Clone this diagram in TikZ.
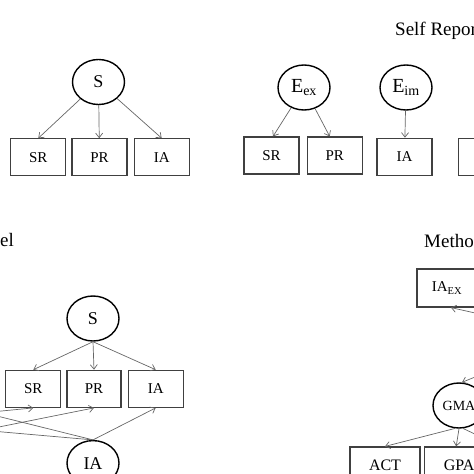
\documentclass[tikz,border=0pt]{standalone}
\usepackage{fontspec}
\setmainfont{Liberation Serif}
\usetikzlibrary{positioning, shapes.geometric, arrows.meta}
\tikzset{
  every node/.style={text=black},
  latent/.style={ellipse, draw=black, line width=1.4pt, minimum width=52pt, minimum height=45pt, inner sep=0pt, font=\fontsize{18}{18}\selectfont},
  observed/.style={rectangle, draw=black!75, line width=1.2pt, minimum width=55pt, minimum height=37pt, inner sep=0pt, font=\fontsize{15}{15}\selectfont},
  load/.style={draw=black!60, line width=0.7pt, -{Straight Barb[length=4.5pt,width=7pt]}},
  heading/.style={inner sep=0pt, anchor=base west, font=\fontsize{19}{19}\selectfont}
}

\begin{document}
\begin{tikzpicture}[x=1pt, y=-1pt, node distance=28pt]
  \useasboundingbox (0,0) rectangle (474,474);
  \clip (0,0) rectangle (474,474);

  % Headings
  \node (headB) [heading] at (395,35) {Self Report};
  \node (headC) [heading, anchor=base east] at (14,246) {Model};
  \node (headD) [heading] at (424,247) {Method};

  % Single factor
  \node (sA) [latent] at (98.5,82) {S};
  \node (prA) [observed, below=33pt of sA, xshift=1pt] {PR};
  \node (srA) [observed, left=5pt of prA] {SR};
  \node (iaA) [observed, right=6pt of prA] {IA};

  \draw[load] (sA) -- (srA.north);
  \draw[load] (sA) -- (prA);
  \draw[load] (sA) -- (iaA.north);

  % Explicit / implicit
  \node (eEx) [latent, font=\fontsize{20}{20}\selectfont] at (304,87.5) {E\textsubscript{ex}};
  \node (eIm) [latent, font=\fontsize{20}{20}\selectfont] at (406,87.5) {E\textsubscript{im}};
  \node (srB) [observed] at (271.5,155.5) {SR};
  \node (prB) [observed, right=7pt of srB] {PR};
  \node (iaB) [observed, below=27pt of eIm, xshift=-1.5pt] {IA};
  \node (moreB) [observed, right=25pt of iaB] {};

  \draw[load] (eEx) -- ([xshift=1.5pt]srB.north);
  \draw[load] (eEx) -- ([xshift=-5pt]prB.north);
  \draw[load] (eIm) -- (iaB);

  % Method factor
  \node (sC) [latent] at (93,318.5) {S};
  \node (prC) [observed, below=28pt of sC, xshift=1pt, minimum width=54pt] {PR};
  \node (srC) [observed, left=5pt of prC] {SR};
  \node (iaC) [observed, right=6pt of prC] {IA};
  \node (iaD) [latent, below=32pt of prC, xshift=-1pt] {IA};

  \coordinate (inSr) at (-60,417);
  \coordinate (inPr) at (-60,438.8);
  \coordinate (outA) at (-60,401.8);
  \coordinate (outB) at (-60,426.5);

  \draw[load] (sC.south) -- (srC.north);
  \draw[load] (sC.south) -- (prC.north);
  \draw[load] (sC.south) -- (iaC.north);
  \draw[load] (inSr) -- (srC.south);
  \draw[load] (inPr) -- (prC.south);
  \draw[load] (iaD.north) -- (outA);
  \draw[load] (iaD.north) -- (outB);
  \draw[load] (iaD.north) -- (iaC.south);

  % GMA
  \node (iaEx) [observed, minimum width=60pt, minimum height=38pt] at (447,288) {IA\textsubscript{EX}};
  \node (gma) [latent, font=\fontsize{14}{14}\selectfont] at (459,405.5) {GMA};
  \node (act) [observed, minimum width=70pt, font=\fontsize{16}{16}\selectfont] at (385,465.5) {ACT};
  \node (gpa) [observed, right=3pt of act, minimum width=70pt, font=\fontsize{16}{16}\selectfont] {GPA};

  \coordinate (inEx) at (520,323);
  \coordinate (inG) at (520,358.8);
  \coordinate (outG) at (520,455.5);

  \draw[load] (inEx) -- ([xshift=4pt]iaEx.south);
  \draw[load] (inG) -- ([xshift=3pt]gma.north);
  \draw[load] (gma.-100) -- (act.north);
  \draw[load] (gma.south) -- ([xshift=-3pt]gpa.north);
  \draw[load] (gma.-80) -- (outG);
\end{tikzpicture}
\end{document}
